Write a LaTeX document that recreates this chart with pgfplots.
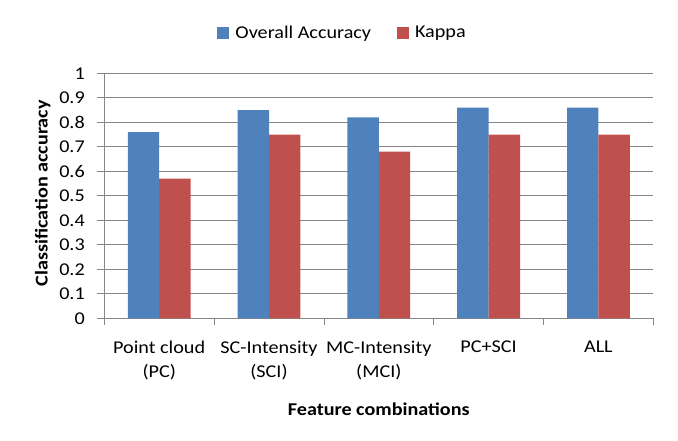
\documentclass[border=0pt]{standalone}
\usepackage{pgfplots}
\pgfplotsset{compat=1.18}
\usepackage{fontspec}
\setmainfont{Carlito}[FakeStretch=1.12]
\definecolor{oablue}{HTML}{4F81BD}
\definecolor{kred}{HTML}{C0504D}
\definecolor{axgray}{HTML}{868686}
\newcommand{\chartfont}{\fontsize{18bp}{24bp}\selectfont}
\begin{document}
\begin{tikzpicture}[x=1bp,y=1bp]
\path (0,0) rectangle (678,441);
\begin{axis}[
  at={(104.3bp,122.7bp)}, anchor=south west,
  scale only axis, width=549bp, height=245bp,
  ybar=0pt, bar width=31.4bp,
  xmin=-0.5, xmax=4.5, ymin=0, ymax=1,
  axis x line*=bottom, axis y line*=left,
  axis line style={draw=axgray, line width=0.8bp},
  tick align=outside,
  ytick={0,0.1,0.2,0.3,0.4,0.5,0.6,0.7,0.8,0.9,1},
  yticklabels={0,0.1,0.2,0.3,0.4,0.5,0.6,0.7,0.8,0.9,1},
  ytick style={draw=axgray, line width=0.8bp},
  major tick length=7bp,
  ymajorgrids, major grid style={draw=axgray, line width=0.8bp},
  xtick={0,1,2,3,4},
  xticklabels={{Point cloud\\(PC)},{SC-Intensity\\(SCI)},{MC-Intensity\\(MCI)},{PC+SCI},{ALL}},
  xtick style={draw=none},
  extra x ticks={-0.5,0.5,1.5,2.5,3.5,4.5},
  extra x tick labels={},
  extra x tick style={grid=none, xtick style={draw=axgray, line width=0.8bp}},
  xticklabel style={font=\chartfont, align=center, anchor=north, yshift=-12bp, text depth=0pt},
  yticklabel style={font=\chartfont, xshift=-9bp},
  /pgf/number format/assume math mode=true,
  xlabel={\textbf{Feature combinations}},
  ylabel={\textbf{Classification accuracy}},
  label style={font=\chartfont},
  xlabel style={at={(axis description cs:0.5,-0.37)}, anchor=center},
  ylabel style={at={(axis description cs:-0.112,0.51)}, anchor=center, rotate=0},
  legend columns=2,
  legend style={at={(axis description cs:0.434,1.1657)}, anchor=center, draw=none, font=\chartfont,
    /tikz/every odd column/.append style={column sep=4bp},
    /tikz/every even column/.append style={column sep=24bp}},
  legend image code/.code={\fill[#1] (0bp,-6bp) rectangle (12bp,6bp);},
]
\addplot[fill=oablue, draw=none] coordinates {(0,0.76) (1,0.85) (2,0.82) (3,0.86) (4,0.86)};
\addplot[fill=kred, draw=none] coordinates {(0,0.57) (1,0.75) (2,0.68) (3,0.75) (4,0.75)};
\legend{Overall Accuracy, Kappa}
\end{axis}
\end{tikzpicture}
\end{document}
